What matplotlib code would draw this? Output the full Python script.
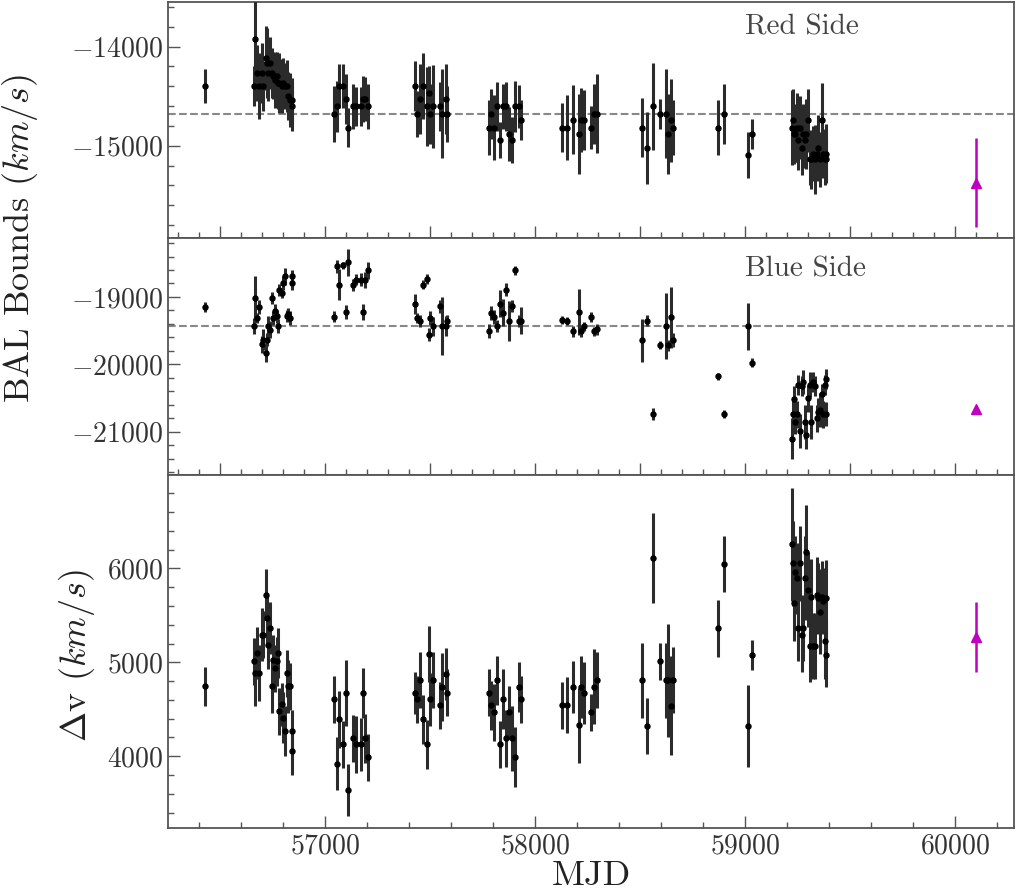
import numpy as np
from matplotlib import pyplot as plt
from matplotlib.ticker import MultipleLocator

plt.rcParams['font.family'] = 'serif'
plt.rcParams['font.serif'] = ['cmr10']
plt.rcParams['mathtext.fontset'] = 'cm'
plt.rcParams['axes.formatter.use_mathtext'] = True
plt.rcParams['axes.formatter.useoffset'] = False

# epochs (MJD), one per spectrum
mjd = [56430,
       56662, 56666, 56674, 56686, 56698, 56706, 56717, 56722, 56730, 56738, 56746, 56750,
       56761, 56769, 56777, 56781, 56793, 56801, 56809, 56820, 56825, 56833, 56841, 56843,
       57043, 57056, 57068, 57084, 57098, 57111, 57132, 57147, 57170, 57179, 57190, 57203,
       57430, 57439, 57452, 57465, 57484, 57495, 57499, 57515, 57547, 57558, 57574, 57579,
       57782, 57791, 57806, 57817, 57832, 57845, 57859, 57875, 57891, 57905, 57923, 57934,
       58129, 58150, 58178, 58208, 58218, 58232, 58265, 58281, 58292,
       58510, 58532, 58562, 58594, 58621, 58630, 58646, 58657,
       58868, 58898, 59011, 59033,
       59220, 59225, 59230, 59236, 59244, 59252, 59260, 59268, 59275, 59283, 59291, 59299,
       59307, 59315, 59323, 59331, 59339, 59347, 59355, 59363, 59371, 59379, 59383, 59386]

red = [-14396,
       -14396, -13922, -14267, -14396, -14267, -14396, -14117, -14167, -14267, -14167, -14267, -14300,
       -14335, -14300, -14369, -14369, -14396, -14369, -14396, -14396, -14500, -14537, -14537, -14604,
       -14678, -14604, -14396, -14396, -14530, -14816, -14604, -14604, -14604, -14530, -14530, -14604,
       -14396, -14678, -14530, -14396, -14604, -14467, -14678, -14604, -14604, -14678, -14530, -14678,
       -14816, -14678, -14816, -14604, -14940, -14604, -14604, -14882, -14940, -14604, -14604, -14738,
       -14816, -14816, -14738, -14882, -14738, -14738, -14816, -14678, -14678,
       -14816, -15023, -14604, -14678, -14678, -14882, -14745, -14816,
       -14816, -14678, -15091, -14882,
       -14816, -14745, -14882, -14882, -14816, -14940, -14816, -15023, -14882, -14940, -14882, -14745,
       -15138, -15138, -15080, -15138, -15080, -15023, -15138, -14745, -15080, -15138, -15138, -15080]

red_err = [170,
           200, 450, 280, 330, 300, 250, 320, 350, 280, 260, 250, 230,
           280, 250, 260, 300, 270, 250, 230, 260, 240, 270, 220, 250,
           280, 260, 220, 220, 250, 200, 230, 200, 200, 230, 220, 230,
           250, 230, 350, 330, 400, 270, 300, 420, 250, 450, 350, 280,
           280, 250, 330, 250, 180, 230, 250, 270, 230, 260, 220, 200,
           250, 330, 350, 400, 320, 300, 220, 300, 400,
           300, 360, 440, 150, 450, 400, 420, 280,
           280, 300, 230, 150,
           380, 320, 300, 280, 350, 300, 320, 270, 300, 280, 350, 320,
           260, 300, 280, 350, 260, 330, 280, 380, 250, 260, 220, 300]

blue = [-19148,
        -19434, -19015, -19311, -19148, -19704, -19631, -19828, -19631, -19434, -19483, -19015, -19311,
        -19212, -19286, -19434, -18902, -18941, -18790, -18696, -19286, -19250, -19311, -18793, -18696,
        -19295, -18548, -18818, -18533, -19222, -18483, -18818, -18744, -18744, -19222, -18744, -18607,
        -19099, -19311, -19360, -18818, -18734, -19557, -19311, -19434, -19138, -19434, -19434, -19360,
        -19508, -19237, -19295, -19434, -19099, -19237, -18892, -19360, -19138, -18607, -19350, -19350,
        -19345, -19360, -19508, -19222, -19508, -19434, -19295, -19508, -19480,
        -19641, -19350, -20739, -19714, -19434, -19714, -19301, -19641,
        -20177, -20739, -19434, -19975,
        -21100, -20739, -20520, -20850, -20739, -20300, -20990, -20320, -20261, -20850, -21050, -20500,
        -20300, -20850, -20261, -20320, -20800, -20700, -20680, -20440, -20739, -20300, -20220, -20739]

blue_err = [70,
            120, 330, 80, 100, 120, 150, 130, 100, 150, 120, 90, 100,
            110, 100, 100, 90, 80, 100, 120, 90, 80, 100, 100, 90,
            80, 100, 230, 50, 100, 200, 90, 80, 100, 120, 120, 120,
            150, 80, 90, 70, 80, 90, 100, 140, 100, 430, 150, 100,
            100, 100, 100, 90, 200, 200, 100, 300, 90, 60, 90, 200,
            60, 60, 80, 340, 80, 70, 70, 70, 80,
            320, 80, 90, 60, 490, 80, 450, 100,
            50, 60, 350, 70,
            300, 250, 200, 180, 200, 150, 250, 150, 180, 250, 200, 200,
            180, 250, 150, 150, 200, 200, 250, 150, 200, 150, 150, 180]

dv = [4745,
      5011, 4886, 5099, 4886, 5294, 5294, 5719, 5470, 5188, 5364, 4745, 5029,
      4939, 5011, 5099, 4480, 4551, 4409, 4268, 4886, 4745, 4745, 4268, 4055,
      4607, 3920, 4392, 4126, 4674, 3641, 4190, 4126, 4126, 4674, 4190, 3988,
      4674, 4607, 4809, 4392, 4126, 5092, 4607, 4809, 4544, 4738, 4876, 4674,
      4674, 4544, 4466, 4809, 4126, 4607, 4190, 4466, 4190, 3988, 4738, 4607,
      4544, 4544, 4738, 4331, 4738, 4674, 4466, 4738, 4809,
      4809, 4321, 6115, 5011, 4809, 4809, 4540, 4809,
      5361, 6044, 4321, 5082,
      6256, 6054, 5630, 5966, 5896, 5364, 6054, 5294, 5364, 5900, 6178, 5772,
      5170, 5700, 5170, 5170, 5720, 5680, 5541, 5700, 5650, 5223, 5082, 5690]

dv_err = [210,
          250, 350, 280, 300, 280, 250, 270, 270, 260, 280, 280, 260,
          250, 260, 270, 250, 230, 270, 270, 250, 280, 250, 220, 250,
          250, 280, 300, 250, 350, 280, 250, 300, 280, 270, 260, 250,
          220, 250, 300, 260, 260, 300, 280, 300, 250, 360, 280, 250,
          250, 260, 300, 260, 250, 320, 300, 280, 350, 320, 270, 250,
          250, 300, 280, 400, 330, 330, 200, 400, 300,
          400, 300, 480, 200, 400, 600, 530, 350,
          300, 300, 440, 160,
          600, 450, 400, 380, 380, 350, 400, 400, 350, 450, 500, 400,
          380, 400, 350, 350, 400, 380, 450, 380, 350, 400, 350, 400]

# new epoch (magenta)
new_mjd = [60100]
new_red, new_red_err = [-15373], [450]
new_blue, new_blue_err = [-20665], [20]
new_dv, new_dv_err = [5269], [370]

# mean bounds (dashed lines)
red_mean = -14680
blue_mean = -19425

fig = plt.figure(figsize=(10.16, 8.93), dpi=100)
gs = fig.add_gridspec(3, 1, height_ratios=[236, 237, 353], hspace=0,
                      left=0.1654, right=0.998, top=0.9978, bottom=0.0728)
ax1 = fig.add_subplot(gs[0])
ax2 = fig.add_subplot(gs[1])
ax3 = fig.add_subplot(gs[2])

panels = [(ax1, red, red_err, new_red, new_red_err),
          (ax2, blue, blue_err, new_blue, new_blue_err),
          (ax3, dv, dv_err, new_dv, new_dv_err)]
for ax, y, yerr, ny, nyerr in panels:
    ax.errorbar(mjd, y, yerr=yerr, fmt='o', color='k', ms=3.6, ecolor='#2b2b2b',
                elinewidth=2.2, capsize=0, zorder=3)
    ax.errorbar(new_mjd, ny, yerr=nyerr, fmt='^', color='m', ms=7,
                elinewidth=1.8, capsize=0, zorder=3)
    ax.set_xlim(56252, 60279)
    ax.tick_params(which='both', direction='in', top=False, right=False,
                   colors='#555555', labelcolor='#333333', labelsize=20)
    ax.tick_params(which='major', length=8.6, width=1)
    ax.tick_params(which='minor', length=4.3, width=1)
    ax.yaxis.set_major_locator(MultipleLocator(1000))
    ax.yaxis.set_minor_locator(MultipleLocator(200))
    for s in ax.spines.values():
        s.set_color('#555555')
        s.set_linewidth(1.3)

ax1.axhline(red_mean, color='#888888', ls='--', lw=1.5, zorder=1)
ax2.axhline(blue_mean, color='#888888', ls='--', lw=1.5, zorder=1)

ax1.set_ylim(-15930, -13550)
ax2.set_ylim(-21640, -18125)
ax3.set_ylim(3236, 6995)

for ax in [ax1, ax2]:
    ax.xaxis.set_major_locator(MultipleLocator(500))
    ax.xaxis.set_minor_locator(MultipleLocator(100))
    ax.tick_params(labelbottom=False)
ax3.xaxis.set_major_locator(MultipleLocator(1000))
ax3.xaxis.set_minor_locator(MultipleLocator(200))

ax1.text(0.682, 0.894, 'Red Side', transform=ax1.transAxes, fontsize=21,
         color='#444444', va='center')
ax2.text(0.682, 0.869, 'Blue Side', transform=ax2.transAxes, fontsize=21,
         color='#444444', va='center')

fig.text(20 / 1016, 1 - 238 / 893, 'BAL Bounds $(km/s)$', rotation=90,
         ha='center', va='center', fontsize=26, color='#222222')
fig.text(77 / 1016, 1 - 655 / 893, r'$\Delta$v $(km/s)$', rotation=90,
         ha='center', va='center', fontsize=26, color='#222222')
fig.text(591 / 1016, 1 - 876 / 893, 'MJD', ha='center', va='center',
         fontsize=26, color='#222222')

plt.savefig('out.png', dpi=100)
